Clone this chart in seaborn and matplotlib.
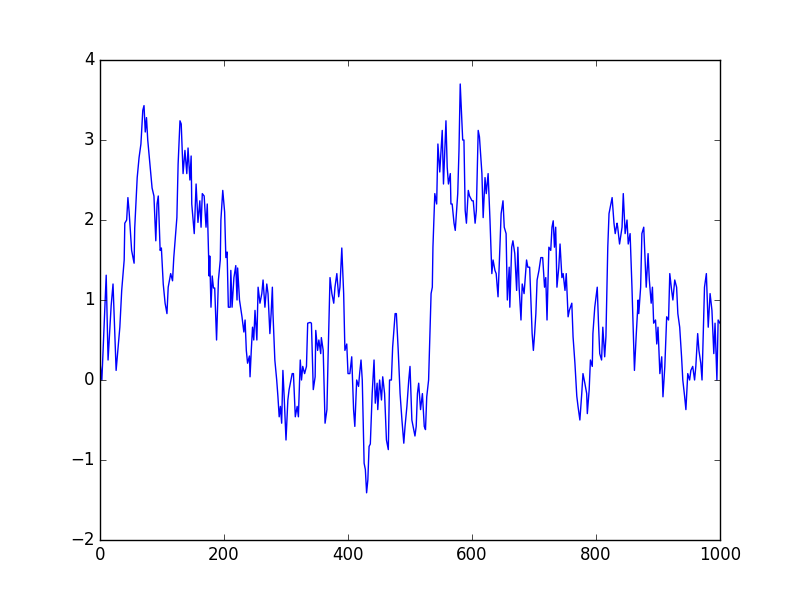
import matplotlib
matplotlib.use("Agg")
import matplotlib.pyplot as plt
import seaborn as sns
import pandas as pd

# values (step index, value)
steps = [0, 3, 10, 13, 18, 21, 26, 32, 35, 39, 40, 43, 45, 47, 51, 55, 56, 60, 63, 66,
         69, 71, 73, 75, 77, 80, 84, 87, 90, 92, 94, 97, 99, 102, 105, 108, 110, 114, 117, 119,
         124, 126, 129, 131, 134, 137, 140, 142, 145, 147, 148, 152, 155, 158, 161, 163, 165, 168, 171, 173,
         175, 176, 177, 179, 181, 183, 185, 188, 191, 194, 195, 198, 201, 203, 205, 207, 210, 211, 213, 216,
         219, 221, 222, 225, 229, 232, 234, 236, 238, 241, 242, 244, 246, 248, 250, 253, 255, 258, 261, 263,
         266, 269, 271, 274, 276, 278, 279, 282, 285, 287, 289, 291, 293, 295, 297, 300, 303, 305, 308, 310,
         312, 315, 318, 320, 323, 325, 327, 330, 333, 335, 339, 341, 344, 347, 348, 351, 353, 356, 357, 360,
         363, 366, 368, 371, 374, 377, 379, 382, 385, 387, 390, 393, 395, 398, 400, 403, 406, 409, 411, 414,
         417, 419, 421, 423, 426, 428, 430, 432, 434, 436, 439, 442, 444, 447, 448, 451, 454, 456, 459, 462,
         465, 467, 470, 472, 476, 478, 481, 484, 487, 490, 492, 495, 498, 500, 503, 505, 508, 510, 512, 514,
         517, 520, 523, 525, 527, 530, 534, 536, 537, 540, 543, 545, 548, 552, 554, 558, 560, 562, 565, 566,
         568, 571, 573, 577, 579, 581, 585, 587, 589, 591, 594, 596, 600, 602, 605, 607, 610, 612, 616, 618,
         621, 623, 626, 629, 632, 634, 637, 639, 642, 645, 647, 650, 652, 655, 657, 660, 661, 664, 666, 669,
         672, 674, 676, 679, 681, 684, 688, 690, 693, 697, 699, 701, 703, 705, 708, 711, 714, 717, 719, 721,
         724, 727, 729, 731, 733, 735, 737, 740, 742, 745, 747, 750, 752, 755, 757, 761, 763, 766, 769, 771,
         774, 777, 779, 782, 785, 786, 789, 791, 794, 795, 798, 802, 804, 806, 809, 811, 814, 816, 819, 821,
         826, 829, 831, 834, 835, 838, 842, 844, 847, 850, 852, 855, 858, 861, 862, 865, 868, 869, 872, 874,
         877, 879, 881, 884, 886, 889, 891, 893, 896, 898, 900, 903, 906, 908, 911, 914, 917, 919, 922, 924,
         927, 930, 932, 935, 938, 940, 943, 945, 948, 951, 953, 956, 959, 961, 964, 966, 969, 971, 975, 978,
         981, 984, 987, 990, 992, 995, 997, 1000]

values = [0.22, 0.0, 1.31, 0.25, 0.93, 1.2, 0.12, 0.66, 1.12, 1.5, 1.96, 2.0, 2.28, 2.1, 1.62, 1.46, 1.9, 2.53, 2.78, 2.95,
          3.37, 3.43, 3.1, 3.28, 3.0, 2.74, 2.4, 2.3, 1.74, 2.2, 2.3, 1.62, 1.65, 1.2, 0.96, 0.83, 1.16, 1.33, 1.24, 1.53,
          2.03, 2.7, 3.24, 3.2, 2.58, 2.87, 2.58, 2.9, 2.5, 2.8, 2.2, 1.83, 2.45, 1.97, 2.24, 1.91, 2.33, 2.3, 1.91, 2.2,
          1.58, 1.3, 1.55, 0.91, 1.3, 1.15, 1.15, 0.5, 1.25, 1.5, 2.0, 2.37, 2.1, 1.53, 1.6, 0.91, 0.91, 1.37, 0.91, 1.28,
          1.43, 1.0, 1.4, 1.0, 0.79, 0.6, 0.75, 0.37, 0.21, 0.3, 0.04, 0.37, 0.66, 0.5, 0.87, 0.5, 1.16, 0.96, 1.08, 1.25,
          0.91, 1.2, 1.08, 0.58, 0.83, 1.16, 0.83, 0.25, 0.0, -0.21, -0.46, -0.33, -0.54, 0.12, -0.2, -0.75, -0.25, -0.12, 0.0, 0.08,
          0.08, -0.46, -0.33, -0.46, 0.25, 0.0, 0.17, 0.08, 0.17, 0.71, 0.72, 0.71, -0.12, 0.04, 0.62, 0.37, 0.5, 0.33, 0.53, 0.37,
          -0.54, -0.37, 0.33, 1.28, 1.08, 0.96, 1.16, 1.33, 1.04, 1.16, 1.65, 1.08, 0.37, 0.45, 0.08, 0.08, 0.29, -0.37, -0.58, 0.0,
          -0.08, 0.1, 0.25, 0.0, -1.04, -1.12, -1.41, -1.25, -0.83, -0.8, -0.17, 0.25, -0.29, -0.04, -0.37, 0.0, -0.25, 0.04, -0.17, -0.75,
          -0.87, 0.0, 0.0, 0.41, 0.83, 0.83, 0.37, -0.17, -0.5, -0.79, -0.58, -0.33, 0.0, 0.17, -0.5, -0.58, -0.7, -0.58, -0.17, -0.04,
          -0.37, -0.17, -0.58, -0.62, -0.21, 0.0, 1.08, 1.16, 1.66, 2.33, 2.2, 2.95, 2.6, 3.12, 2.45, 3.24, 2.66, 2.45, 2.58, 2.2,
          2.2, 1.96, 1.87, 2.33, 2.87, 3.7, 3.0, 3.0, 2.12, 1.96, 2.37, 2.3, 2.24, 2.24, 1.96, 2.12, 3.12, 3.04, 2.58, 2.03,
          2.53, 2.33, 2.58, 2.0, 1.33, 1.5, 1.37, 1.33, 1.04, 1.66, 2.08, 2.24, 1.91, 1.83, 1.0, 1.41, 0.91, 1.66, 1.74, 1.58,
          1.12, 1.66, 1.16, 0.75, 1.2, 1.08, 1.5, 1.41, 1.41, 0.58, 0.37, 0.58, 0.83, 1.25, 1.37, 1.53, 1.53, 1.16, 1.28, 0.75,
          1.66, 1.62, 1.91, 1.99, 1.66, 1.91, 1.16, 1.41, 1.7, 1.28, 1.33, 1.12, 1.33, 0.79, 0.87, 0.96, 0.54, 0.21, -0.2, -0.33,
          -0.5, -0.17, 0.08, -0.04, -0.17, -0.42, -0.12, 0.25, 0.17, 0.58, 0.91, 1.16, 0.71, 0.33, 0.25, 0.66, 0.29, 0.54, 1.66, 2.08,
          2.28, 1.96, 1.83, 1.96, 1.91, 1.7, 1.91, 2.33, 1.83, 2.0, 1.7, 1.83, 1.16, 0.37, 0.12, 0.58, 1.0, 0.83, 1.16, 1.83,
          1.91, 1.53, 1.16, 1.58, 1.25, 0.96, 1.16, 0.71, 0.75, 0.45, 0.66, 0.08, 0.29, -0.21, 0.17, 0.79, 0.75, 1.33, 1.12, 1.0,
          1.25, 1.16, 0.83, 0.66, 0.29, 0.0, -0.21, -0.37, 0.08, 0.0, 0.12, 0.17, 0.0, 0.17, 0.58, 0.37, 0.21, 0.0, 1.16, 1.33,
          0.66, 1.08, 0.87, 0.33, 0.71, 0.0, 0.75, 0.71]

xticks = [0, 200, 400, 600, 800, 1000]
yticks = [-2, -1, 0, 1, 2, 3, 4]

df = pd.DataFrame({"step": steps, "value": values})

# old matplotlib look
plt.style.use("classic")

fig, ax = plt.subplots(figsize=(8, 6), dpi=100)
sns.lineplot(data=df, x="step", y="value", color="b", linewidth=1.0,
             estimator=None, sort=False, ax=ax)
ax.set_xlim(0, 1000)
ax.set_ylim(-2, 4)
ax.set_xticks(xticks)
ax.set_yticks(yticks)
ax.set_xlabel("")
ax.set_ylabel("")

fig.savefig("out.png", dpi=100, facecolor="white")
